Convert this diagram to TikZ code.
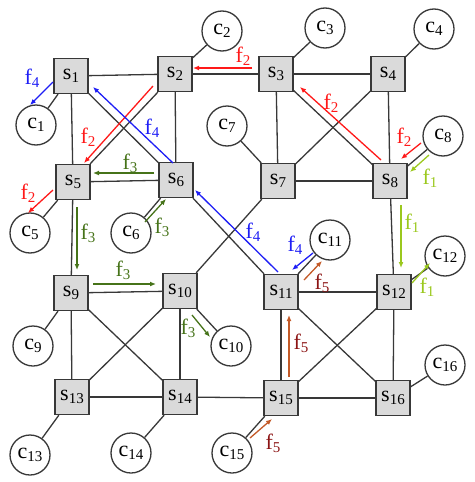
\documentclass[tikz,border=0pt]{standalone}
\usepackage{fontspec}
\setmainfont{Liberation Serif}
\usetikzlibrary{arrows.meta}
\definecolor{edgegray}{RGB}{56, 56, 56}
\definecolor{boxgray}{RGB}{218, 218, 218}
\definecolor{fred}{RGB}{255, 25, 25}
\definecolor{fblue}{RGB}{30, 30, 245}
\definecolor{fgreen}{RGB}{70, 115, 25}
\definecolor{flime}{RGB}{155, 200, 30}
\definecolor{fbrown}{RGB}{195, 90, 40}
\definecolor{fdark}{RGB}{140, 20, 20}
\newcommand{\ix}[2]{#1\raisebox{-3pt}{\fontsize{15}{15}\selectfont #2}}

\begin{document}
\begin{tikzpicture}[x = 1pt, y = -1pt, line width = 1.3pt, >={Latex[length = 6pt, width = 5pt]},
every node/.style = {font = \fontsize{22}{22}\selectfont},
switch/.style = {draw = edgegray, fill = boxgray, minimum width = 34pt, minimum height = 35pt, inner sep = 0pt},
client/.style = {draw = edgegray, fill = white, circle, minimum size = 40pt, inner sep = 0pt},
flow/.style = {->, line width = 1.3pt},
flab/.style = {inner sep = 0pt}]
\useasboundingbox (0,0) rectangle (474,482);
\foreach \n/\x/\y in {1/71/76, 2/175/74, 3/276/74, 4/388/74, 5/73/182, 6/176/180, 7/278/181, 8/390/181, 9/71/293, 10/180/291, 11/281/292, 12/394/292, 13/72/397, 14/180/397, 15/281/398, 16/393/398}
\node[switch] (s\n) at (\x,\y) {\ix{s}{\n}};
\foreach \n/\x/\y in {1/36/125, 2/222/31, 3/325/28, 4/434/29, 5/30/233, 6/131/233, 7/227/126, 8/443/136, 9/33/346, 10/231/346, 11/330/240, 12/445/256, 13/30/455, 14/131/453, 15/232/453, 16/445/365}
\node[client] (c\n) at (\x,\y) {\ix{c}{\n}};
% links between switches
\foreach \a/\b in {1/2, 2/3, 3/4, 5/6, 7/8, 9/10, 11/12, 13/14, 14/15, 15/16, 1/5, 2/6, 3/7, 4/8, 5/9, 8/12, 9/13, 10/14, 11/15, 12/16, 1/6, 2/5, 3/8, 4/7, 6/11, 7/10, 9/14, 10/13, 11/16, 12/15}
\draw[edgegray] (s\a) -- (s\b);
\foreach \n in {1,...,16}
\draw[edgegray] (s\n) -- (c\n);
% flow f1
\draw[flow, flime] ([shift = {(-14,19)}]c8.center) -- ([shift = {(20,-9)}]s8.center);
\draw[flow, flime] ([shift = {(11,24)}]s8.center) -- ([shift = {(7,-24)}]s12.center);
\draw[flow, flime] ([shift = {(18,-9)}]s12.center) -- ([shift = {(-15,7)}]c12.center);
% flow f2
\draw[flow, fred] ([shift = {(-22,7)}]c8.center) -- ([shift = {(11,-22)}]s8.center);
\draw[flow, fred] ([shift = {(-9,-21)}]s8.center) -- ([shift = {(24,13)}]s3.center);
\draw[flow, fred] ([shift = {(-24,-6)}]s3.center) -- ([shift = {(18,-6)}]s2.center);
\draw[flow, fred] ([shift = {(-22,12)}]s2.center) -- ([shift = {(11,-19)}]s5.center);
\draw[flow, fred] ([shift = {(-20,8)}]s5.center) -- ([shift = {(-2,-20)}]c5.center);
% flow f3
\draw[flow, fgreen] ([shift = {(14,-11)}]c6.center) -- ([shift = {(-10,19)}]s6.center);
\draw[flow, fgreen] ([shift = {(-22,-7)}]s6.center) -- ([shift = {(20,-9)}]s5.center);
\draw[flow, fgreen] ([shift = {(4,25)}]s5.center) -- ([shift = {(6,-23)}]s9.center);
\draw[flow, fgreen] ([shift = {(22,-9)}]s9.center) -- ([shift = {(-24,-7)}]s10.center);
\draw[flow, fgreen] ([shift = {(12,24)}]s10.center) -- ([shift = {(-21,-9)}]c10.center);
% flow f4
\draw[flow, fblue] ([shift = {(-17,13)}]c11.center) -- ([shift = {(11,-22)}]s11.center);
\draw[flow, fblue] ([shift = {(-3,-20)}]s11.center) -- ([shift = {(19,10)}]s6.center);
\draw[flow, fblue] ([shift = {(-3,-17)}]s6.center) -- ([shift = {(22,11)}]s1.center);
\draw[flow, fblue] ([shift = {(-18,6)}]s1.center) -- ([shift = {(-6,-20)}]c1.center);
% flow f5
\draw[flow, fbrown] ([shift = {(18,-15)}]c15.center) -- ([shift = {(-9,21)}]s15.center);
\draw[flow, fbrown] ([shift = {(8,-21)}]s15.center) -- ([shift = {(8,23)}]s11.center);
\draw[flow, fbrown] ([shift = {(23,-12)}]s11.center) -- ([shift = {(-8,21)}]c11.center);
% flow labels
\foreach \x/\y [count = \i] in {430/178, 412/223, 427/287}
\node[flab, text = flime] (fone\i) at (\x,\y) {\ix{f}{1}};
\foreach \x/\y [count = \i] in {404/137, 331/103, 243/56, 88/137, 28/193}
\node[flab, text = fred] (ftwo\i) at (\x,\y) {\ix{f}{2}};
\foreach \x/\y [count = \i] in {162/227, 130/163, 88/233, 123/270, 188/328}
\node[flab, text = fgreen] (fthree\i) at (\x,\y) {\ix{f}{3}};
\foreach \x/\y [count = \i] in {295/245, 253/232, 152/128, 32/78}
\node[flab, text = fblue] (ffour\i) at (\x,\y) {\ix{f}{4}};
\foreach \x/\y [count = \i] in {273/443, 301/343, 322/283}
\node[flab, text = fdark] (ffive\i) at (\x,\y) {\ix{f}{5}};
\end{tikzpicture}
\end{document}
